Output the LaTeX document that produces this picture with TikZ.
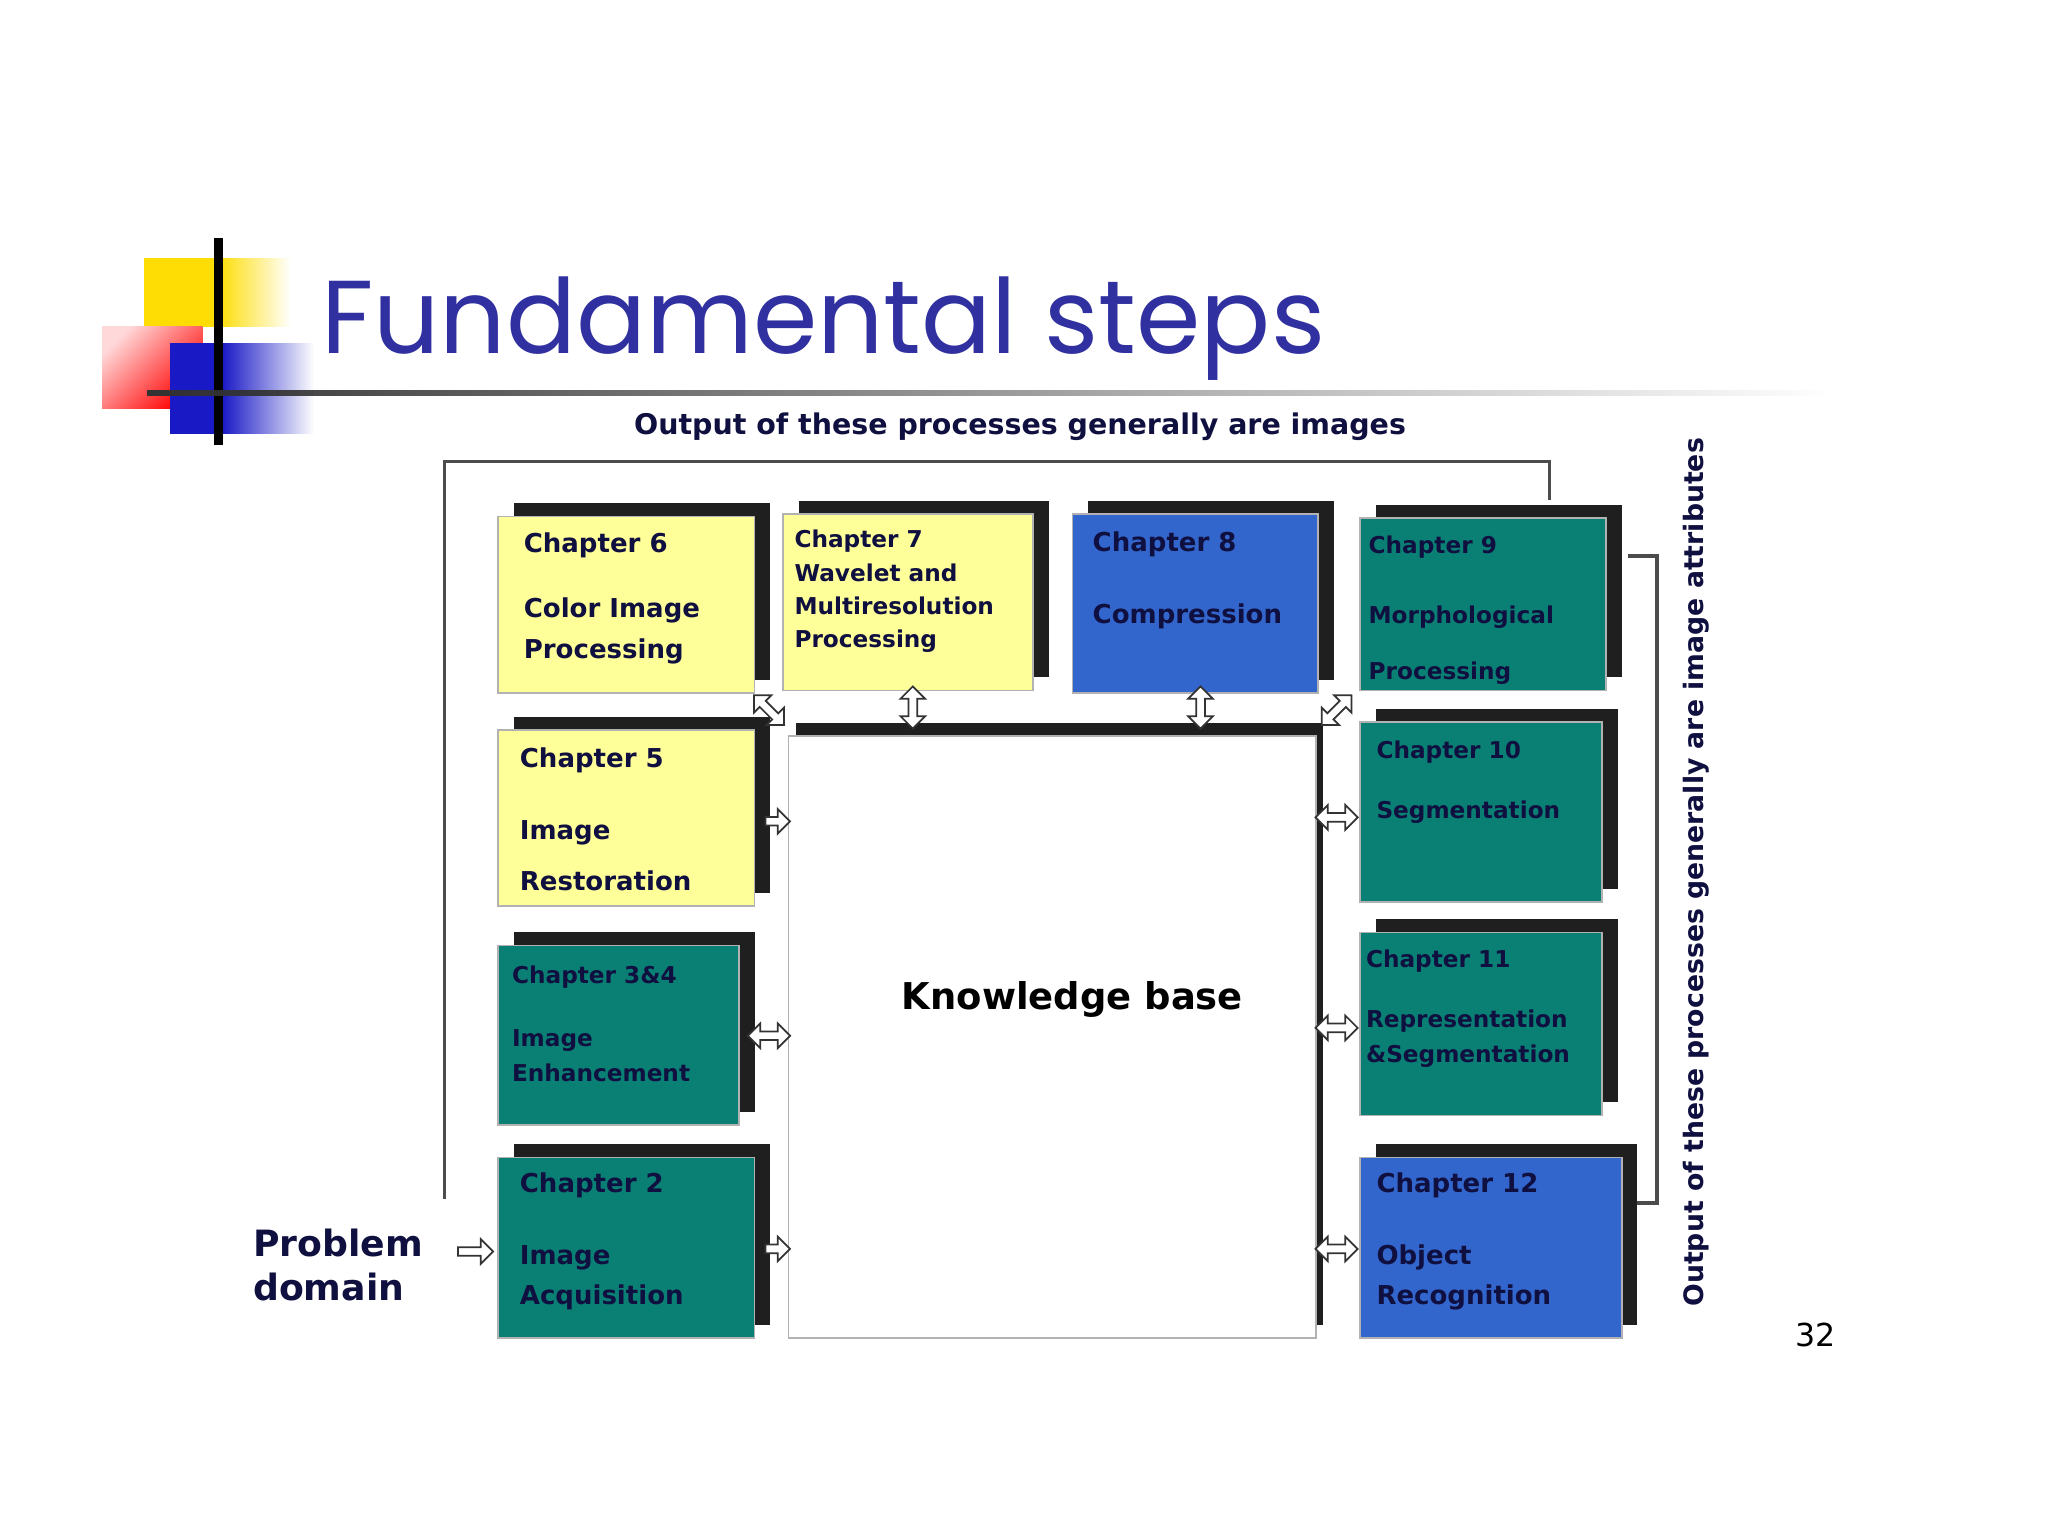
\documentclass[tikz,border=0pt]{standalone}
\usepackage{fontspec}
\setmainfont{DejaVu Sans}
\newfontfamily\titlefont{Poppins}
\usetikzlibrary{shapes.arrows,fadings}
\definecolor{chyellow}{HTML}{FFFF99}
\definecolor{chblue}{HTML}{3366CC}
\definecolor{chteal}{HTML}{0A8075}
\definecolor{navy}{HTML}{101040}
\definecolor{titleblue}{HTML}{3030A0}
\tikzset{
  shadowbox/.style={fill=black!88},
  chapter/.style={draw=gray!60, line width=0.5pt},
  chaptext/.style={anchor=north west, align=left, text=navy, font=\bfseries\fontsize{7.4}{11.5}\selectfont, inner sep=0pt},
  twoway/.style={double arrow, draw=black!80, fill=white, line width=0.5pt, minimum height=12pt, minimum width=7pt, double arrow head extend=1.2pt, inner sep=0.4pt},
  oneway/.style={single arrow, draw=black!80, fill=white, line width=0.5pt, minimum height=10pt, minimum width=7pt, single arrow head extend=1.2pt, inner sep=0.4pt},
}
% box: name, x1, y1, x2, y2, colour, shadow offset
\newcommand\chapbox[7][12]{%
  \fill[shadowbox] (#3+#1,#4-10) rectangle (#5+#1,#6-10);
  \node[chapter, fill=#7, minimum width={(#5-#3)*0.01308cm}, minimum height={(#6-#4)*0.01308cm}, inner sep=0pt] (#2) at ({(#3+#5)/2},{(#4+#6)/2}) {};
}
\begin{document}
\begin{tikzpicture}[x=0.01308cm, y=-0.01308cm]
\useasboundingbox (0,0) rectangle (1566,1174.5);

% logo
\fill[yellow!80!orange] (110,197) rectangle (167,250);
\fill[yellow!80!orange, path fading=east] (167,197) rectangle (222,250);
\shade[left color=red!15, right color=red, shading angle=45] (78,250) rectangle (155,312);
\fill[blue!75!black!90] (130,262) rectangle (170,332);
\fill[blue!75!black!90, path fading=east] (170,262) rectangle (240,332);
\draw[line width=2.5pt] (167,182) -- (167,340);
\fill[black!80, path fading=east] (113,298) rectangle (1400,303);
\node[anchor=base west, text=titleblue, font=\titlefont\fontsize{29.5}{34}\selectfont, inner sep=0pt] (title) at (245,270) {Fundamental steps};

% frame
\draw[black!70, line width=1pt] (340,917) -- (340,353) -- (1185,353) -- (1185,382);
\draw[black!70, line width=1pt] (1245,425) -- (1267,425) -- (1267,920) -- (1250,920);
\node[text=navy, font=\bfseries\fontsize{8.1}{10}\selectfont, fill=white] (topnote) at (780,326) {Output of these processes generally are images};
\node[text=navy, font=\bfseries\fontsize{7.6}{10}\selectfont, rotate=90] (sidenote) at (1297,667) {Output of these processes generally are image attributes};

% chapters
\chapbox{ch6}{381}{395}{577}{530}{chyellow}
\chapbox{ch7}{599}{393}{790}{528}{chyellow}
\chapbox{ch8}{820}{393}{1008}{530}{chblue}
\chapbox{ch9}{1040}{396}{1228}{528}{chteal}
\chapbox{ch5}{381}{558}{577}{693}{chyellow}
\chapbox{ch34}{381}{723}{565}{860}{chteal}
\chapbox{ch2}{381}{885}{577}{1023}{chteal}
\chapbox{ch10}{1040}{552}{1225}{690}{chteal}
\chapbox{ch11}{1040}{713}{1225}{853}{chteal}
\chapbox{ch12}{1040}{885}{1240}{1023}{chblue}
\chapbox[6]{kb}{603}{563}{1006}{1023}{white}

\node[chaptext] (t6) at (400,407) {Chapter 6\\[7pt]Color Image\\Processing};
\node[chaptext, font=\bfseries\fontsize{6.6}{9.4}\selectfont] (t7) at (607,405) {Chapter 7\\Wavelet and\\Multiresolution\\Processing};
\node[chaptext] (t8) at (835,406) {Chapter 8\\[9pt]Compression};
\node[chaptext, font=\bfseries\fontsize{6.6}{10}\selectfont] (t9) at (1046,409) {Chapter 9\\[10pt]Morphological\\[6pt]Processing};
\node[chaptext] (t5) at (397,571) {Chapter 5\\[9pt]Image\\[3pt]Restoration};
\node[chaptext, font=\bfseries\fontsize{6.6}{10}\selectfont] (t34) at (391,738) {Chapter 3\&4\\[8pt]Image\\Enhancement};
\node[chaptext] (t2) at (397,896) {Chapter 2\\[9pt]Image\\Acquisition};
\node[chaptext, font=\bfseries\fontsize{6.6}{10}\selectfont] (t10) at (1052,566) {Chapter 10\\[7pt]Segmentation};
\node[chaptext, font=\bfseries\fontsize{6.6}{10}\selectfont] (t11) at (1044,726) {Chapter 11\\[7pt]Representation\\\&Segmentation};
\node[chaptext] (t12) at (1052,896) {Chapter 12\\[9pt]Object\\Recognition};
\node[text=black, font=\bfseries\fontsize{10.5}{12}\selectfont] (kbtext) at (820,764) {Knowledge base};

\node[anchor=west, align=left, text=navy, font=\bfseries\fontsize{10.3}{12.5}\selectfont, inner sep=0pt] (problem) at (193,967) {Problem\\domain};
\node[oneway] (pin) at (362,957) {};
\node[font=\fontsize{9}{10}\selectfont] (page) at (1388,1021) {32};

% arrows to the knowledge base
\node[twoway, rotate=-45] (a6) at (588,543) {};
\node[twoway, rotate=90] (a7) at (698,541) {};
\node[twoway, rotate=90] (a8) at (918,541) {};
\node[twoway, rotate=45] (a9) at (1022,543) {};
\node[oneway, minimum height=7pt] (a5) at (593,628) {};
\node[twoway] (a34) at (588,792) {};
\node[oneway, minimum height=7pt] (a2) at (593,955) {};
\node[twoway] (a10) at (1022,625) {};
\node[twoway] (a11) at (1022,786) {};
\node[twoway] (a12) at (1022,955) {};
\end{tikzpicture}
\end{document}
